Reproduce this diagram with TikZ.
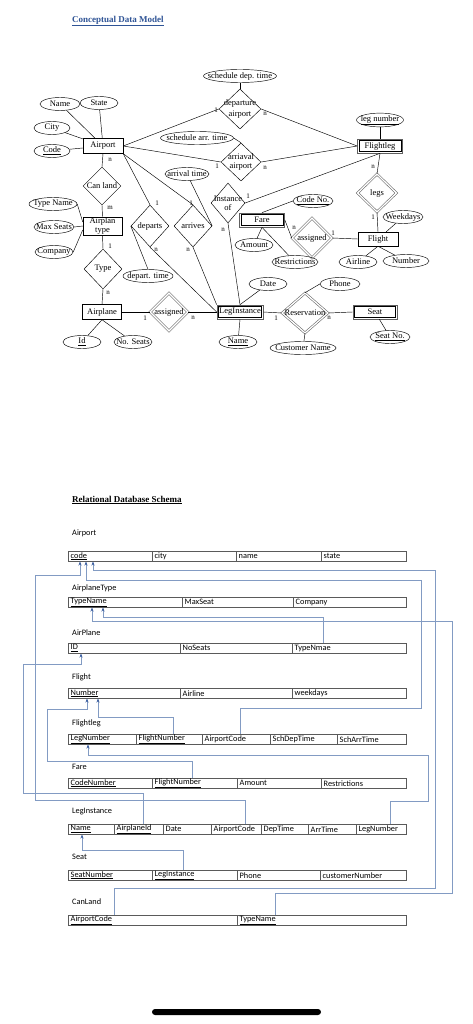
\documentclass[tikz,border=0pt]{standalone}
\usepackage{fontspec}
\setmainfont{Liberation Serif}
\newfontfamily\schfont{Carlito}
\usetikzlibrary{shapes.geometric,arrows.meta}
\definecolor{fkline}{RGB}{130,155,195}
\definecolor{fkarrow}{RGB}{60,95,160}
\definecolor{titleblue}{RGB}{47,84,150}
\definecolor{dbl}{RGB}{95,95,95}
\definecolor{cellline}{RGB}{90,90,90}
\newcommand\zb[1]{\makebox[0pt]{#1}}
\newcommand\zs[2]{\makebox[0pt]{\shortstack{#1\\#2}}}
\newcommand\dbcell[5]{\node[cellbox=#4] (#1) at (#2,#3) {};\node[celltext] (#1-t) at ([xshift=2.5pt]#1.west) {#5};}
\newcommand\weakin[1]{\draw[line width=0.45pt] ([shift={(1.7pt,1.7pt)}]#1.south west) rectangle ([shift={(-1.7pt,-1.7pt)}]#1.north east);}
\begin{document}
\begin{tikzpicture}[x=1pt,y=-1pt,
  erf/.style={font=\fontsize{8.5}{9}\selectfont},
  ent/.style={draw, rectangle, minimum width=#1, minimum height=15, inner sep=0, erf, line width=0.5pt},
  went/.style={rectangle, minimum width=#1, minimum height=14, inner sep=0, erf, draw=dbl, line width=0.7pt},
  attr/.style={draw, ellipse, minimum width=#1, minimum height=13, inner sep=0, erf, line width=0.45pt},
  rel/.style 2 args={draw, diamond, minimum width=#1, minimum height=#2, inner sep=0, erf, line width=0.45pt},
  wrel/.style 2 args={rel={#1}{#2}, draw=dbl, double=white, double distance=1.3pt, line width=0.55pt},
  card/.style={font=\fontsize{7}{7}\selectfont, inner sep=0},
  erl/.style={line width=0.45pt},
  cellbox/.style={draw=cellline, line width=0.5pt, minimum height=10, inner sep=0, anchor=north west, minimum width=#1},
  celltext/.style={font=\schfont\fontsize{8.3}{9}\selectfont, inner sep=0, anchor=west},
  tlabel/.style={font=\schfont\fontsize{8.3}{9}\selectfont, anchor=west, inner sep=0},
  fk/.style={draw=fkline, line width=0.55pt, -{Stealth[length=4pt,width=3pt,color=fkarrow]}}
]
\fill[white] (0,0) rectangle (473,1024);
\useasboundingbox (0,0) rectangle (473,1024);

% ---------- titles ----------
\node[anchor=west, inner sep=0, text=titleblue, font=\bfseries\fontsize{9}{10}\selectfont] (title1) at (72,21) {\underline{Conceptual Data Model}};
\node[anchor=west, inner sep=0, font=\bfseries\fontsize{9}{10}\selectfont] (title2) at (72,500) {\underline{Relational Database Schema}};

% ---------- ER entities ----------
\node[ent=40] (airport) at (103,146) {Airport};
\node[went=45] (flightleg) at (380,146) {Flightleg};
\node[ent=39, minimum height=18] (airplantype) at (102.5,226) {\shortstack{Airplan\\type}};
\node[ent=39] (airplane) at (102,312) {Airplane};
\node[went=46] (leginstance) at (240,312) {LegInstance};
\node[went=45] (fare) at (262,220) {Fare};
\node[ent=40, minimum height=14] (flight) at (378,239) {Flight};
\node[went=44] (seat) at (375,312) {Seat};
\weakin{flightleg}
\weakin{leginstance}
\weakin{fare}
\weakin{seat}

% ---------- ER relationships ----------
\node[rel={42}{40}] (deparr) at (240,109) {\zs{departure}{airport}};
\node[rel={40}{38}] (arrarr) at (241,162) {\zs{arriaval}{airport}};
\node[rel={38}{38}] (canland) at (102,186) {\zb{Can land}};
\node[rel={38}{40}] (typerel) at (103,269) {\zb{Type}};
\node[rel={38}{42}] (departs) at (150,226) {\zb{departs}};
\node[rel={38}{42}] (arrives) at (193,226) {\zb{arrives}};
\node[rel={34}{40}] (instof) at (228,203) {\zs{Instance}{of}};
\node[wrel={39}{38}] (legs) at (377,193) {\zb{legs}};
\node[wrel={38}{38}] (assigned1) at (169,312) {\zb{assigned}};
\node[wrel={40}{40}] (assigned2) at (312,238) {\zb{assigned}};
\node[wrel={46}{40}] (reservation) at (305,313) {\zb{Reservation}};

% ---------- ER attributes ----------
\node[attr=40] (name) at (60,104) {\zb{Name}};
\node[attr=38] (state) at (99,103) {\zb{State}};
\node[attr=36] (city) at (52,128) {\zb{City}};
\node[attr=36] (code) at (52,151) {\zb{\underline{Code}}};
\node[attr=73] (schdep) at (240,76) {\zb{schedule dep. time}};
\node[attr=73] (scharr) at (197,138) {\zb{schedule arr. time}};
\node[attr=44] (arrtime) at (187,174) {\zb{arrival time}};
\node[attr=47] (legnum) at (380,120) {\zb{\underline{leg number}}};
\node[attr=48] (typename) at (53,204) {\zb{Type Name}};
\node[attr=40] (maxseats) at (54,227) {\zb{Max Seats}};
\node[attr=38] (company) at (54,252) {\zb{Company}};
\node[attr=50] (departtime) at (148,276) {\zb{depart. time}};
\node[attr=38] (id) at (82,342) {\zb{\underline{Id}}};
\node[attr=38] (noseats) at (133,342) {\zb{No. Seats}};
\node[attr=40] (codeno) at (313,201) {\zb{\underline{Code No.}}};
\node[attr=38] (amount) at (254,245) {\zb{Amount}};
\node[attr=46] (restrictions) at (295,262) {\zb{Restrictions}};
\node[attr=40] (weekdays) at (403,217) {\zb{Weekdays}};
\node[attr=38] (airline) at (358,262) {\zb{Airline}};
\node[attr=46] (number) at (406,261) {\zb{Number}};
\node[attr=38] (date) at (268,284) {\zb{Date}};
\node[attr=40] (phone) at (340,284) {\zb{Phone}};
\node[attr=38] (liname) at (238,342) {\zb{\underline{Name}}};
\node[attr=66] (custname) at (303,348) {\zb{Customer Name}};
\node[attr=40] (seatno) at (390,337) {\zb{\underline{Seat No.}}};

% ---------- ER connectors ----------
\begin{scope}[erl]
\draw (name) -- (airport);
\draw (state) -- (airport);
\draw (city) -- (airport);
\draw (code) -- (airport);
\draw (airport.east) -- (deparr.west);
\draw (deparr.east) -- (flightleg.west);
\draw (schdep) -- (deparr.north);
\draw (airport.east) -- (arrarr.west);
\draw (arrarr.east) -- (flightleg.west);
\draw (scharr.east) -- (arrarr.north);
\draw (airport.south east) -- (departs.north);
\draw (airport.south east) -- (arrives.north);
\draw (departs.south) -- (leginstance.west);
\draw (arrives.south) -- (leginstance.north west);
\draw (departtime.north) -- (departs.west);
\draw (arrtime) -- (arrives.east);
\draw (instof.east) -- (flightleg.south);
\draw (instof.south) -- (leginstance.north);
\draw (legnum) -- (flightleg);
\draw (flightleg.south) -- (legs.north);
\draw (legs.south) -- (flight.north);
\draw (codeno.west) -- (fare.north);
\draw (amount) -- (fare.south);
\draw (restrictions) -- (fare.south);
\draw (fare.east) -- (assigned2.west);
\draw (assigned2.east) -- (flight.west);
\draw (weekdays) -- (flight);
\draw (airline) -- (flight.south);
\draw (number) -- (flight.south);
\draw (typename.east) -- ([yshift=4pt]airplantype.west);
\draw (maxseats.east) -- (airplantype.west);
\draw (company.east) -- ([yshift=-4pt]airplantype.west);
\draw (airport.south) -- (canland.north);
\draw (canland.south) -- (airplantype.north);
\draw (airplantype.south) -- (typerel.north);
\draw (typerel.south) -- (airplane.north);
\draw (airplane.south) -- (id);
\draw (airplane.south) -- (noseats);
\draw (airplane.east) -- (assigned1.west);
\draw (assigned1.east) -- (leginstance.west);
\draw (leginstance.east) -- (reservation.west);
\draw (reservation.east) -- (seat.west);
\draw (date) -- (leginstance.north);
\draw (phone.west) -- (reservation.north);
\draw (custname) -- (reservation.south);
\draw (liname) -- (leginstance.south);
\draw (seatno) -- (seat);
\end{scope}

% ---------- cardinalities ----------
\node[card] (k1) at (216,110) {1};
\node[card] (k2) at (265,114) {n};
\node[card] (k3) at (217,166) {1};
\node[card] (k4) at (265,168) {n};
\node[card] (k5) at (110,160) {n};
\node[card] (k6) at (110,208) {m};
\node[card] (k7) at (110,246) {1};
\node[card] (k8) at (108,293) {n};
\node[card] (k9) at (157,203) {1};
\node[card] (k10) at (156,250) {n};
\node[card] (k11) at (191,203) {1};
\node[card] (k12) at (188,250) {n};
\node[card] (k13) at (248,196) {1};
\node[card] (k14) at (223,230) {n};
\node[card] (k15) at (373,167) {n};
\node[card] (k16) at (373,217) {1};
\node[card] (k17) at (294,228) {n};
\node[card] (k18) at (333,233) {1};
\node[card] (k19) at (145,318) {1};
\node[card] (k20) at (193,318) {n};
\node[card] (k21) at (276,318) {1};
\node[card] (k22) at (329,318) {n};

% ---------- relational schema ----------
\node[tlabel] (lab-ap) at (72,533) {Airport};
\dbcell{a-code}{68}{551}{84}{\underline{code}}
\dbcell{a-city}{152}{551}{84}{city}
\dbcell{a-name}{236}{551}{85}{name}
\dbcell{a-state}{321}{551}{85}{state}

\node[tlabel] (lab-at) at (72,588) {AirplaneType};
\dbcell{at-tn}{68}{597}{114}{\underline{TypeName}}
\dbcell{at-ms}{182}{597}{111}{MaxSeat}
\dbcell{at-co}{293}{597}{113}{Company}

\node[tlabel] (lab-pl) at (72,633) {AirPlane};
\dbcell{pl-id}{68}{643}{112}{\underline{ID}}
\dbcell{pl-ns}{180}{643}{112}{NoSeats}
\dbcell{pl-tn}{292}{643}{114}{TypeNmae}

\node[tlabel] (lab-fl) at (72,677) {Flight};
\dbcell{f-num}{68}{688}{112}{\underline{Number}}
\dbcell{f-air}{180}{688}{112}{Airline}
\dbcell{f-wd}{292}{688}{114}{weekdays}

\node[tlabel] (lab-flg) at (72,723) {Flightleg};
\dbcell{fl-ln}{68}{734}{68}{\underline{LegNumber}}
\dbcell{fl-fn}{136}{734}{66}{\underline{FlightNumber}}
\dbcell{fl-ac}{202}{734}{68}{AirportCode}
\dbcell{fl-sd}{270}{734}{67}{SchDepTime}
\dbcell{fl-sa}{337}{734}{69}{SchArrTime}

\node[tlabel] (lab-fa) at (72,767) {Fare};
\dbcell{fa-cn}{68}{778}{84}{\underline{CodeNumber}}
\dbcell{fa-fn}{152}{778}{85}{\underline{FlightNumber}}
\dbcell{fa-am}{237}{778}{84}{Amount}
\dbcell{fa-re}{321}{778}{85}{Restrictions}

\node[tlabel] (lab-li) at (72,812) {LegInstance};
\dbcell{li-nm}{68}{824}{46}{\underline{Name}}
\dbcell{li-aid}{114}{824}{49}{\underline{AirplaneId}}
\dbcell{li-dt}{163}{824}{48}{Date}
\dbcell{li-ac}{211}{824}{50}{AirportCode}
\dbcell{li-dep}{261}{824}{47}{DepTime}
\dbcell{li-arr}{308}{824}{48}{ArrTime}
\dbcell{li-ln}{356}{824}{50}{LegNumber}

\node[tlabel] (lab-se) at (72,857) {Seat};
\dbcell{se-sn}{68}{870}{84}{\underline{SeatNumber}}
\dbcell{se-li}{152}{870}{85}{\underline{LegInstance}}
\dbcell{se-ph}{237}{870}{83}{Phone}
\dbcell{se-cn}{320}{870}{86}{customerNumber}

\node[tlabel] (lab-cl) at (72,902) {CanLand};
\dbcell{cl-ac}{68}{915}{169}{\underline{AirportCode}}
\dbcell{cl-tn}{237}{915}{169}{\underline{TypeName}}

% ---------- arrow targets ----------
\coordinate (t-code1) at (80,561.5);
\coordinate (t-code2) at (86,561.5);
\coordinate (t-code3) at (93,561.5);
\coordinate (t-tn1) at (92,607.5);
\coordinate (t-tn2) at (103,607.5);
\coordinate (t-id) at (81,653.5);
\coordinate (t-num1) at (87,698.5);
\coordinate (t-num2) at (98,698.5);
\coordinate (t-leg) at (88,744.5);
\coordinate (t-name) at (82,834.5);

% ---------- foreign keys ----------
\draw[fk] ([xshift=34pt]li-ac.north west) |- (35,800) |- (80,575) -- (t-code1);
\draw[fk] ([xshift=38pt]fl-ac.north west) |- (421,708) |- (86,580) -- (t-code2);
\draw[fk] ([xshift=46pt]cl-ac.north west) |- (435,888) |- (93,570) -- (t-code3);
\draw[fk] ([xshift=31pt]pl-tn.north west) |- (103,617) -- (t-tn2);
\draw[fk] ([xshift=38pt]cl-tn.north west) |- (452,893) |- (92,621) -- (t-tn1);
\draw[fk] ([xshift=29pt]li-aid.north west) |- (23,793) |- (81,664) -- (t-id);
\draw[fk] ([xshift=40pt]fa-fn.north west) |- (47,761) |- (87,709) -- (t-num1);
\draw[fk] ([xshift=37pt]fl-fn.north west) |- (98,717) -- (t-num2);
\draw[fk] ([xshift=34pt]li-ln.north west) |- (428,801) |- (88,755) -- (t-leg);
\draw[fk] ([xshift=31pt]se-li.north west) |- (82,850) -- (t-name);

% ---------- home indicator ----------
\fill[black, rounded corners=3pt] (152,1009) rectangle (321,1015);
\end{tikzpicture}
\end{document}
